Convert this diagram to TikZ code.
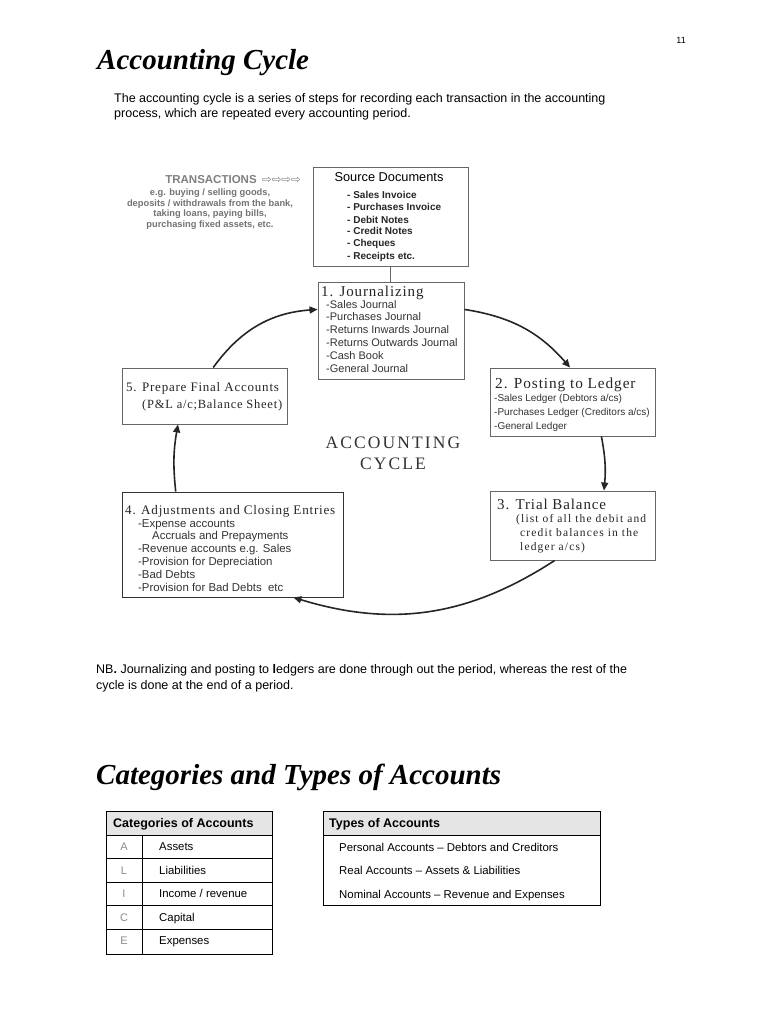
\documentclass[tikz,border=0pt]{standalone}
\usepackage{fontspec}
\setmainfont{Liberation Sans}
\newfontfamily\boxserif[LetterSpace=6]{Liberation Serif}
\newfontfamily\wideserif[LetterSpace=10]{Liberation Serif}
\newfontfamily\capserif[LetterSpace=12]{Liberation Serif}
\newfontfamily\headscript{Liberation Serif}
\newfontfamily\arrowfont{DejaVu Sans}
\usetikzlibrary{arrows.meta,positioning}

\tikzset{
  cyclebox/.style={draw=black!60, line width=0.9pt, inner sep=0pt},
  boxhead/.style={anchor=base west, inner sep=0pt, text=black!85},
  listline/.style={anchor=base west, inner sep=0pt, text=black!80, font=\fontsize{11}{13}\selectfont},
  bodyline/.style={anchor=base west, inner sep=0pt, font=\fontsize{12.5}{15}\selectfont},
  cyclearrow/.style={draw=black!85, line width=1.6pt, -{Triangle[length=8pt,width=7pt]}},
  tabletext/.style={anchor=base west, inner sep=0pt, font=\fontsize{11.4}{13}\selectfont},
  pagehead/.style={anchor=base west, inner sep=0pt, font=\headscript\bfseries\itshape\fontsize{29}{32}\selectfont}
}

\begin{document}
\begin{tikzpicture}[x=1pt,y=-1pt]
\useasboundingbox[fill=white] (0,0) rectangle (768,1024);

\node[anchor=base east, inner sep=0pt, font=\fontsize{9}{10}\selectfont] (pagenum) at (686,44) {11};
\node[pagehead] (title1) at (97,70) {Accounting Cycle};
\node[bodyline] (intro1) at (114,102.5) {The accounting cycle is a series of steps for recording each transaction in the accounting};
\node[bodyline] (intro2) at (114,117.5) {process, which are repeated every accounting period.};

% transactions
\node[anchor=base, inner sep=0pt, text=black!50, font=\bfseries\fontsize{11.5}{13}\selectfont] (trans) at (211,184) {TRANSACTIONS};
\node[anchor=base west, inner sep=0pt, text=black!50, font=\arrowfont\fontsize{11.5}{13}\selectfont] (transarrows) at (262,184) {⇨⇨⇨⇨};
\foreach \txt [count=\i from 0] in {{e.g. buying / selling goods,}, {deposits / withdrawals from the bank,}, {taking loans, paying bills,}, {purchasing fixed assets, etc.}}
  \node[anchor=base, inner sep=0pt, text=black!55, font=\bfseries\fontsize{9.3}{10}\selectfont] (ex\i) at (210,195.5+10.6*\i) {\txt};

% boxes
\node[cyclebox, minimum width=155pt, minimum height=99pt] (src) at (390.5,216.5) {};
\node[cyclebox, minimum width=146pt, minimum height=97pt] (jour) at (391,330.5) {};
\node[cyclebox, minimum width=165pt, minimum height=68pt] (post) at (572.5,402) {};
\node[cyclebox, minimum width=165pt, minimum height=69pt] (trial) at (572.5,525.5) {};
\node[cyclebox, draw=black!80, minimum width=221pt, minimum height=105pt] (adj) at (232.5,544.5) {};
\node[cyclebox, minimum width=165pt, minimum height=56pt] (final) at (204.5,396) {};

\node[anchor=base, inner sep=0pt, font=\fontsize{12.8}{14}\selectfont] (srctitle) at (389,182) {Source Documents};
\foreach \txt [count=\i from 0] in {- Sales Invoice, - Purchases Invoice, - Debit Notes, - Credit Notes, - Cheques, - Receipts etc.}
  \node[anchor=base west, inner sep=0pt, font=\bfseries\fontsize{10}{12}\selectfont, text=black!85] (src\i) at (347,199+12*\i) {\txt};

\node[boxhead, font=\boxserif\fontsize{15}{17}\selectfont] (jourtitle) at (321,296) {1. Journalizing};
\foreach \txt [count=\i from 0] in {-Sales Journal, -Purchases Journal, -Returns Inwards Journal, -Returns Outwards Journal, -Cash Book, -General Journal}
  \node[listline] (jour\i) at (326,308+12.9*\i) {\txt};

\node[boxhead, font=\boxserif\fontsize{15.3}{17}\selectfont] (posttitle) at (495,388) {2. Posting to Ledger};
\foreach \txt [count=\i from 0] in {-Sales Ledger (Debtors a/cs), -Purchases Ledger (Creditors a/cs), -General Ledger}
  \node[listline, font=\fontsize{10}{12}\selectfont] (post\i) at (494,401+14*\i) {\txt};

\node[boxhead, font=\boxserif\fontsize{15}{17}\selectfont] (trialtitle) at (497,509) {3. Trial Balance};
\node[boxhead, font=\wideserif\fontsize{11.5}{13}\selectfont] (trial0) at (516,522.5) {(list of all the debit and};
\node[boxhead, font=\wideserif\fontsize{11.5}{13}\selectfont] (trial1) at (520,536.5) {credit balances in the};
\node[boxhead, font=\wideserif\fontsize{11.5}{13}\selectfont] (trial2) at (520,550.5) {ledger a/cs)};

\node[boxhead, font=\boxserif\fontsize{13.1}{15}\selectfont] (adjtitle) at (125,514) {4. Adjustments and Closing Entries};
\foreach \txt/\dx [count=\i from 0] in {-Expense accounts/0, Accruals and Prepayments/14, -Revenue accounts e.g. Sales/0, -Provision for Depreciation/0, -Bad Debts/0, -Provision for Bad Debts\ \ etc/0}
  \node[listline, font=\fontsize{11.4}{13}\selectfont] (adj\i) at (138+\dx,527+12.8*\i) {\txt};

\node[boxhead, font=\boxserif\fontsize{13}{15}\selectfont] (finaltitle) at (126,391) {5. Prepare Final Accounts};
\node[boxhead, font=\boxserif\fontsize{12.5}{15}\selectfont] (final0) at (142,408) {(P\&L a/c;Balance Sheet)};

\node[anchor=base, inner sep=0pt, text=black!80, font=\capserif\fontsize{17.5}{20}\selectfont] (cycle1) at (393,448) {ACCOUNTING};
\node[anchor=base, inner sep=0pt, text=black!80, font=\capserif\fontsize{17.5}{20}\selectfont] (cycle2) at (393,469) {CYCLE};

% connectors
\draw[black!60, line width=0.8pt] (src.south) -- (src.south |- jour.north);
\draw[cyclearrow] (jour.16) to[bend left=20] (post.94);
\draw[cyclearrow] (post.-50) to[bend left=8] (trial.48);
\draw[cyclearrow] (trial.-117) to[bend left=25] (adj.-41);
\draw[cyclearrow] (adj.137) to[bend left=8] (final.-133);
\draw[cyclearrow] (final.73) to[bend left=25] (jour.164);

\node[bodyline] (nb1) at (96,673) {NB\textbf{.} Journalizing and posting to \textbf{l}edgers are done through out the period, whereas the rest of the};
\node[bodyline] (nb2) at (96,689) {cycle is done at the end of a period.};

% tables
\node[pagehead] (title2) at (96,784) {Categories and Types of Accounts};
\draw[fill=black!10] (106,811) rectangle (272,835);
\draw (106,835) rectangle (272,954);
\foreach \y in {858,882,905,929} \draw (106,\y) -- (272,\y);
\draw (142,835) -- (142,954);
\node[tabletext, font=\bfseries\fontsize{12.5}{14}\selectfont] (cathead) at (113,827) {Categories of Accounts};
\foreach \l/\txt [count=\i from 0] in {A/Assets, L/Liabilities, I/{Income / revenue}, C/Capital, E/Expenses} {
  \node[anchor=base, inner sep=0pt, text=black!45, font=\fontsize{11}{12}\selectfont] (catl\i) at (124,850.5+23.6*\i) {\l};
  \node[tabletext] (cat\i) at (159,850.5+23.6*\i) {\txt};
}
\draw[fill=black!10] (323,811) rectangle (600,835);
\draw (323,835) rectangle (600,905);
\node[tabletext, font=\bfseries\fontsize{12.5}{14}\selectfont] (typehead) at (329,827) {Types of Accounts};
\foreach \txt [count=\i from 0] in {Personal Accounts – Debtors and Creditors, Real Accounts – Assets \& Liabilities, Nominal Accounts – Revenue and Expenses}
  \node[tabletext] (type\i) at (339,851+23.5*\i) {\txt};
\end{tikzpicture}
\end{document}
